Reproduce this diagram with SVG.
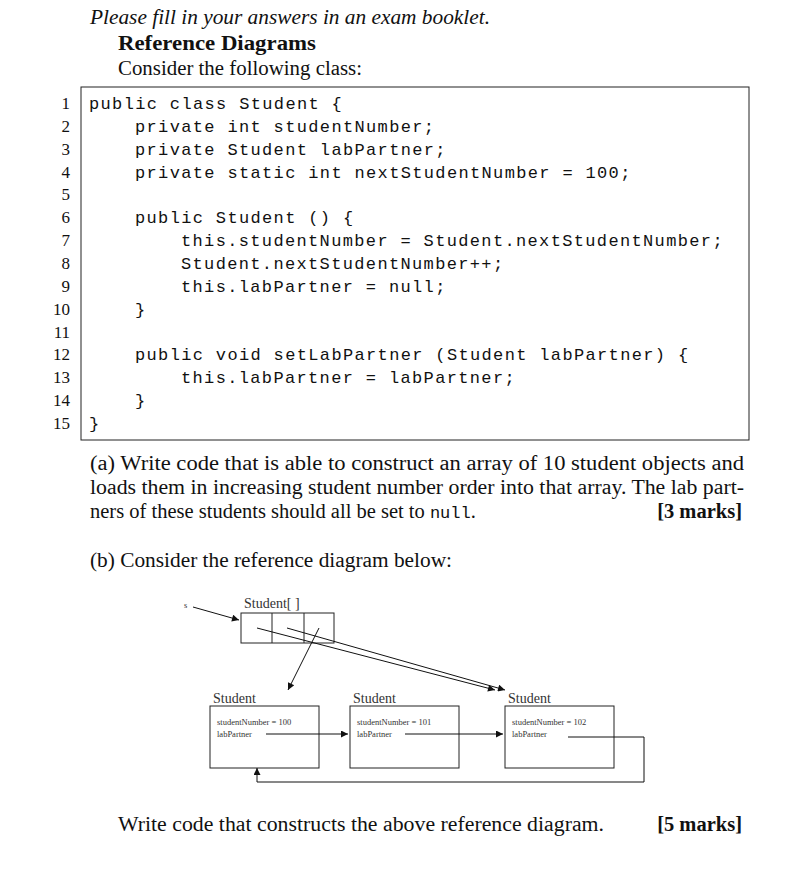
<svg xmlns="http://www.w3.org/2000/svg" width="812" height="880" viewBox="0 0 812 880">
<style>
.s{font-family:"Liberation Serif",serif;font-size:20.5px;fill:#111}
.m{font-family:"Liberation Mono",monospace;font-size:17px;letter-spacing:1.35px;fill:#111}
.n{font-family:"Liberation Serif",serif;font-size:17px;fill:#111;text-anchor:end}
.l{font-family:"Liberation Serif",serif;font-size:14px;fill:#333}
.t{font-family:"Liberation Serif",serif;font-size:8.5px;fill:#333}
.b{fill:none;stroke:#222;stroke-width:1}
.c{fill:none;stroke:#111;stroke-width:1;marker-end:url(#a)}
</style>
<defs><marker id="a" viewBox="0 0 10 10" refX="10" refY="5" markerWidth="9" markerHeight="7" orient="auto" markerUnits="userSpaceOnUse"><path d="M0,0L10,5L0,10z" fill="#111"/></marker></defs>
<rect width="812" height="880" fill="#fff"/>
<text class="s" x="90" y="24" font-style="italic" textLength="400" lengthAdjust="spacingAndGlyphs">Please fill in your answers in an exam booklet.</text>
<text class="s" x="118" y="50" font-weight="bold" textLength="198" lengthAdjust="spacingAndGlyphs">Reference Diagrams</text>
<text class="s" x="118" y="75" textLength="244" lengthAdjust="spacingAndGlyphs">Consider the following class:</text>
<rect class="b" x="81" y="87" width="668" height="353"/>
<g class="n"><text x="70" y="109">1</text><text x="70" y="132">2</text><text x="70" y="155">3</text><text x="70" y="178">4</text><text x="70" y="200">5</text><text x="70" y="223">6</text><text x="70" y="246">7</text><text x="70" y="269">8</text><text x="70" y="292">9</text><text x="70" y="315">10</text><text x="70" y="338">11</text><text x="70" y="360">12</text><text x="70" y="383">13</text><text x="70" y="406">14</text><text x="70" y="429">15</text></g>
<g class="m">
<text x="89" y="109">public class Student {</text>
<text x="135" y="132">private int studentNumber;</text>
<text x="135" y="155">private Student labPartner;</text>
<text x="135" y="178">private static int nextStudentNumber = 100;</text>
<text x="135" y="223">public Student () {</text>
<text x="181" y="246">this.studentNumber = Student.nextStudentNumber;</text>
<text x="181" y="269">Student.nextStudentNumber++;</text>
<text x="181" y="292">this.labPartner = null;</text>
<text x="135" y="315">}</text>
<text x="135" y="360">public void setLabPartner (Student labPartner) {</text>
<text x="181" y="383">this.labPartner = labPartner;</text>
<text x="135" y="406">}</text>
<text x="89" y="429">}</text>
</g>
<text class="s" x="90" y="470" textLength="654" lengthAdjust="spacingAndGlyphs">(a) Write code that is able to construct an array of 10 student objects and</text>
<text class="s" x="90" y="494" textLength="654" lengthAdjust="spacingAndGlyphs">loads them in increasing student number order into that array. The lab part-</text>
<text class="s" x="90" y="518">ners of these students should all be set to <tspan font-family="Liberation Mono" font-size="17">null</tspan>.</text>
<text class="s" x="742" y="518" text-anchor="end" font-weight="bold">[3 marks]</text>
<text class="s" x="90" y="567" textLength="362" lengthAdjust="spacingAndGlyphs">(b) Consider the reference diagram below:</text>
<g id="array"><text class="l" x="244" y="608">Student[ ]</text><rect class="b" x="241" y="613" width="93" height="30"/><path class="b" d="M272,613V643M304,613V643"/><text class="t" x="184" y="608" font-size="10">s</text></g>
<g id="s1"><text class="l" x="213" y="703">Student</text><rect class="b" x="210" y="706" width="109" height="62"/><text class="t" x="217" y="725">studentNumber = 100</text><text class="t" x="217" y="737">labPartner</text></g>
<g id="s2"><text class="l" x="353" y="703">Student</text><rect class="b" x="350" y="706" width="109" height="62"/><text class="t" x="357" y="725">studentNumber = 101</text><text class="t" x="357" y="737">labPartner</text></g>
<g id="s3"><text class="l" x="508" y="703">Student</text><rect class="b" x="505" y="706" width="109" height="62"/><text class="t" x="512" y="725">studentNumber = 102</text><text class="t" x="512" y="737">labPartner</text></g>
<g id="connectors">
<path class="c" d="M193,607L239,620"/>
<path class="c" d="M257,628L495,690"/>
<path class="c" d="M287,628L505,690"/>
<path class="c" d="M319,628L288,690"/>
<path class="c" d="M266,734L348,734"/>
<path class="c" d="M405,734L503,734"/>
<path class="c" d="M568,737H644V782H257V768" stroke="#555"/>
</g>
<text class="s" x="118" y="831" textLength="486" lengthAdjust="spacingAndGlyphs">Write code that constructs the above reference diagram.</text>
<text class="s" x="742" y="831" text-anchor="end" font-weight="bold">[5 marks]</text>
</svg>
